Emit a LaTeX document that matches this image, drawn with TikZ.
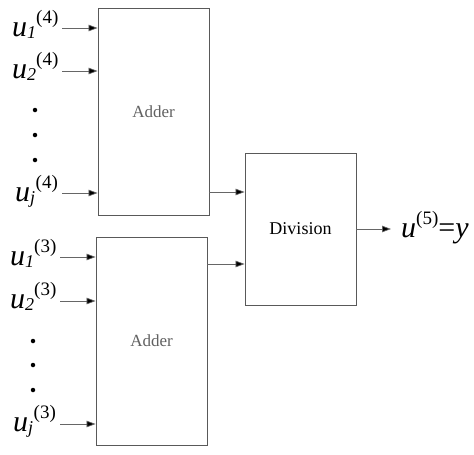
\documentclass[tikz,border=0pt]{standalone}
\usepackage{fontspec}
\setmainfont{Liberation Serif}
\usetikzlibrary{arrows.meta}
\newcommand{\bigu}{{\fontsize{30}{30}\selectfont\itshape u}}
\newcommand{\ulab}[3][0pt]{\bigu\raisebox{-2.5pt}{\fontsize{18}{20}\selectfont\itshape #2}\hspace{#1}\raisebox{12.5pt}{\fontsize{19}{20}\selectfont(#3)}}
\begin{document}
\begin{tikzpicture}[x=1pt,y=-1pt,
  blk/.style={draw=black!65,line width=0.8pt,fill=white,inner sep=0pt},
  con/.style={draw=black!60,line width=0.7pt,-{Triangle[length=9pt,width=6.5pt,fill=black]}},
  lab/.style={inner sep=0pt},
  dot/.style={circle,fill=black,inner sep=0pt,minimum size=4.5pt}]
\useasboundingbox (0,0) rectangle (474,455);
% boxes
\node[blk,minimum width=111pt,minimum height=207pt] (add1) at (153.5,111.5) {};
\node[text=black!62,font=\fontsize{17}{20}\selectfont] at (add1.center) {Adder};
\node[blk,minimum width=111pt,minimum height=208pt] (add2) at (151.5,341) {};
\node[text=black!62,font=\fontsize{17}{20}\selectfont] at (add2.center) {Adder};
\node[blk,minimum width=111pt,minimum height=152pt] (div) at (300.5,229) {};
\node[font=\fontsize{18}{21}\selectfont] at (div.center) {Division};
% top inputs
\node[lab,anchor=base west] (a1) at (12,36) {\ulab{1}{4}};
\node[lab,anchor=base west] (a2) at (12,78) {\ulab{2}{4}};
\node[lab,anchor=base west] (aj) at (15,201) {\ulab[0.5pt]{j}{4}};
\coordinate (a1s) at (62,28);
\coordinate (a2s) at (62,71);
\coordinate (ajs) at (62,193);
\draw[con] (a1s) -- (a1s -| add1.west);
\draw[con] (a2s) -- (a2s -| add1.west);
\draw[con] (ajs) -- (ajs -| add1.west);
\node[dot] (d1) at (35,110) {};
\node[dot] (d2) at (35,135) {};
\node[dot] (d3) at (35,160) {};
% bottom inputs
\node[lab,anchor=base west] (b1) at (10,265) {\ulab{1}{3}};
\node[lab,anchor=base west] (b2) at (10,308) {\ulab{2}{3}};
\node[lab,anchor=base west] (bj) at (13,431) {\ulab[0.5pt]{j}{3}};
\coordinate (b1s) at (60,257);
\coordinate (b2s) at (60,301);
\coordinate (bjs) at (60,424);
\draw[con] (b1s) -- (b1s -| add2.west);
\draw[con] (b2s) -- (b2s -| add2.west);
\draw[con] (bjs) -- (bjs -| add2.west);
\node[dot] (e1) at (33,341) {};
\node[dot] (e2) at (33,365) {};
\node[dot] (e3) at (33,390) {};
% adder outputs
\coordinate (o1) at (add1.east |- 0,192);
\coordinate (o2) at (add2.east |- 0,264);
\draw[con] (o1) -- (o1 -| div.west);
\draw[con] (o2) -- (o2 -| div.west);
% output
\coordinate (out) at (391,229);
\draw[con] (div.east) -- (out);
\node[lab,anchor=base west] (y) at (401,237) {\bigu\raisebox{13pt}{\fontsize{19}{20}\selectfont(5)}{\fontsize{30}{30}\selectfont=\itshape y}};
\end{tikzpicture}
\end{document}
